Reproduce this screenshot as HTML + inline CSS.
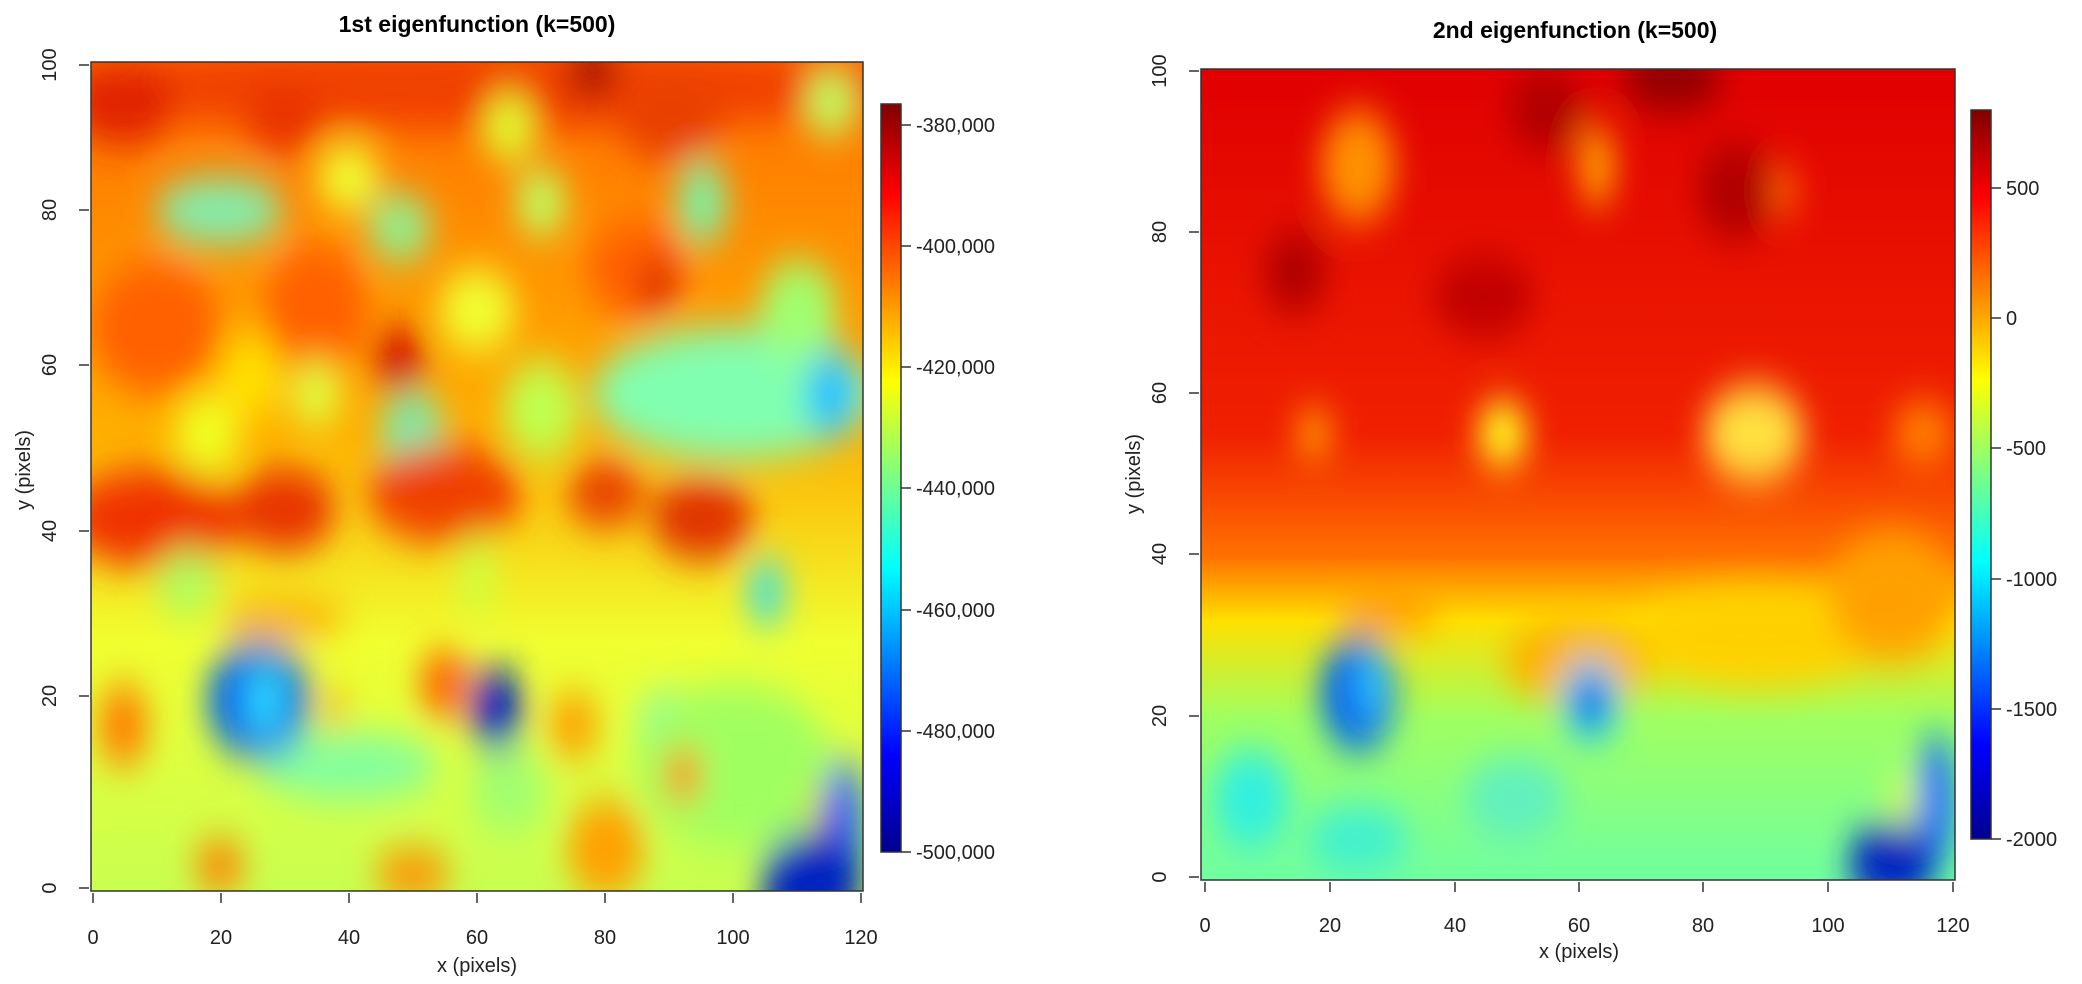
<!DOCTYPE html>
<html><head><meta charset="utf-8"><style>
html,body{margin:0;padding:0;background:#fff;}
body{width:2082px;height:984px;position:relative;overflow:hidden;font-family:"Liberation Sans",sans-serif;}
svg{position:absolute;}
</style></head><body>

<svg style="left:91px;top:62px" width="772" height="829" viewBox="0 0 120 100" preserveAspectRatio="none">
<defs>
<linearGradient id="lb" x1="0" y1="0" x2="0" y2="1">
<stop offset="0" stop-color="#ff7000"/><stop offset="0.45" stop-color="#ffb000"/><stop offset="0.7" stop-color="#f0ff30"/><stop offset="1" stop-color="#c8ff50"/>
</linearGradient>
<filter id="f1" x="-20%" y="-20%" width="140%" height="140%"><feGaussianBlur stdDeviation="2.4"/></filter>
</defs>
<rect width="120" height="100" fill="url(#lb)"/>
<g filter="url(#f1)" transform="translate(0,100) scale(1,-1)">
<ellipse cx="60" cy="97" rx="70" ry="5" fill="#f04000"/>
<ellipse cx="78" cy="99" rx="4" ry="3" fill="#a00000"/>
<ellipse cx="5" cy="95" rx="8" ry="5" fill="#e02000"/>
<ellipse cx="30" cy="93" rx="6" ry="4" fill="#e83000"/>
<ellipse cx="90" cy="93" rx="8" ry="5" fill="#e84000"/>
<ellipse cx="60" cy="70" rx="6" ry="5" fill="#f0ff30"/>
<ellipse cx="25" cy="62" rx="5" ry="5" fill="#ffe000"/>
<ellipse cx="70" cy="58" rx="6" ry="6" fill="#c0ff50"/>
<ellipse cx="40" cy="86" rx="5" ry="4" fill="#f0ff30"/>
<ellipse cx="20" cy="82" rx="10" ry="4" fill="#80f0b0"/>
<ellipse cx="48" cy="80" rx="5" ry="4" fill="#90f090"/>
<ellipse cx="95" cy="83" rx="4" ry="5" fill="#80f0a0"/>
<ellipse cx="70" cy="83" rx="4" ry="4" fill="#c0ff60"/>
<ellipse cx="115" cy="95" rx="4" ry="4" fill="#c0ff60"/>
<ellipse cx="65" cy="92" rx="4" ry="4" fill="#e0ff30"/>
<ellipse cx="10" cy="68" rx="10" ry="8" fill="#ff6000"/>
<ellipse cx="35" cy="70" rx="8" ry="8" fill="#ff6000"/>
<ellipse cx="48" cy="64" rx="4" ry="4" fill="#d01000"/>
<ellipse cx="85" cy="75" rx="8" ry="6" fill="#ff6000"/>
<ellipse cx="88" cy="73" rx="3" ry="3" fill="#d82000"/>
<ellipse cx="100" cy="60" rx="22" ry="8" fill="#80ffb0"/>
<ellipse cx="115" cy="60" rx="4" ry="5" fill="#20c0ff"/>
<ellipse cx="110" cy="70" rx="6" ry="6" fill="#a0ff70"/>
<ellipse cx="50" cy="55" rx="5" ry="5" fill="#70f0b0"/>
<ellipse cx="18" cy="55" rx="5" ry="5" fill="#f0ff20"/>
<ellipse cx="35" cy="60" rx="4" ry="4" fill="#e0ff40"/>
<ellipse cx="10" cy="45" rx="14" ry="6" fill="#f03000"/>
<ellipse cx="30" cy="46" rx="8" ry="5" fill="#e83000"/>
<ellipse cx="55" cy="48" rx="12" ry="6" fill="#f04000"/>
<ellipse cx="95" cy="45" rx="8" ry="5" fill="#e03000"/>
<ellipse cx="80" cy="48" rx="6" ry="4" fill="#e84000"/>
<ellipse cx="15" cy="37" rx="5" ry="4" fill="#b0ff60"/>
<ellipse cx="105" cy="36" rx="3" ry="4" fill="#40e0e0"/>
<ellipse cx="60" cy="38" rx="3" ry="5" fill="#d0ff40"/>
<ellipse cx="30" cy="33" rx="10" ry="2" fill="#ffa000"/>
<ellipse cx="40" cy="15" rx="14" ry="4" fill="#80ffa0"/>
<ellipse cx="65" cy="12" rx="6" ry="5" fill="#a0ff70"/>
<ellipse cx="90" cy="20" rx="5" ry="4" fill="#80ffb0"/>
<ellipse cx="100" cy="15" rx="15" ry="10" fill="#a0ff60"/>
<ellipse cx="5" cy="20" rx="4" ry="5" fill="#ff8000"/>
<ellipse cx="55" cy="25" rx="4" ry="4" fill="#ff6000"/>
<ellipse cx="75" cy="20" rx="4" ry="4" fill="#ffa000"/>
<ellipse cx="38" cy="22" rx="2" ry="2" fill="#ffa000"/>
<ellipse cx="20" cy="3" rx="4" ry="3" fill="#ff8000"/>
<ellipse cx="50" cy="2" rx="6" ry="3" fill="#ff9000"/>
<ellipse cx="80" cy="5" rx="6" ry="6" fill="#ffa000"/>
<ellipse cx="92" cy="14" rx="3" ry="3" fill="#ff8000"/>
<ellipse cx="115" cy="10" rx="3" ry="3" fill="#ff9000"/>
<ellipse cx="26" cy="23" rx="8" ry="7" fill="#0060f0"/>
<ellipse cx="27" cy="23" rx="3" ry="4" fill="#30e0ff"/>
<ellipse cx="63" cy="22" rx="4" ry="5" fill="#0020c0"/>
<ellipse cx="117" cy="8" rx="3" ry="8" fill="#0060ff"/>
<ellipse cx="112" cy="1" rx="8" ry="6" fill="#0020c0"/>
</g>
</svg>

<svg style="left:1201px;top:69px" width="754" height="811" viewBox="0 0 120 100" preserveAspectRatio="none">
<defs>
<linearGradient id="rb" x1="0" y1="0" x2="0" y2="1">
<stop offset="0" stop-color="#e00000"/><stop offset="0.45" stop-color="#f02000"/><stop offset="0.6" stop-color="#ff7000"/><stop offset="0.68" stop-color="#ffe000"/><stop offset="0.8" stop-color="#a0ff60"/><stop offset="1" stop-color="#70ffa0"/>
</linearGradient>
<filter id="f2" x="-20%" y="-20%" width="140%" height="140%"><feGaussianBlur stdDeviation="2.4"/></filter>
</defs>
<rect width="120" height="100" fill="url(#rb)"/>
<g filter="url(#f2)" transform="translate(0,100) scale(1,-1)">
<ellipse cx="75" cy="99" rx="8" ry="4" fill="#900000"/>
<ellipse cx="55" cy="95" rx="6" ry="5" fill="#b00000"/>
<ellipse cx="85" cy="85" rx="6" ry="6" fill="#b00000"/>
<ellipse cx="15" cy="75" rx="5" ry="5" fill="#b00000"/>
<ellipse cx="45" cy="72" rx="8" ry="5" fill="#c00000"/>
<ellipse cx="25" cy="88" rx="6" ry="7" fill="#ff9000"/>
<ellipse cx="63" cy="88" rx="3" ry="5" fill="#ffa000"/>
<ellipse cx="93" cy="85" rx="2" ry="3" fill="#ff7000"/>
<ellipse cx="48" cy="55" rx="4" ry="4" fill="#ffff20"/>
<ellipse cx="18" cy="55" rx="3" ry="3" fill="#ffa000"/>
<ellipse cx="88" cy="55" rx="8" ry="6" fill="#ffe040"/>
<ellipse cx="115" cy="55" rx="5" ry="4" fill="#ff8000"/>
<ellipse cx="30" cy="33" rx="8" ry="2" fill="#ff9000"/>
<ellipse cx="60" cy="27" rx="12" ry="5" fill="#ffb000"/>
<ellipse cx="88" cy="30" rx="20" ry="6" fill="#ffd000"/>
<ellipse cx="110" cy="35" rx="10" ry="8" fill="#ffa000"/>
<ellipse cx="8" cy="10" rx="6" ry="6" fill="#30f0e0"/>
<ellipse cx="25" cy="5" rx="8" ry="4" fill="#40f0d0"/>
<ellipse cx="50" cy="10" rx="8" ry="5" fill="#60f0c0"/>
<ellipse cx="25" cy="23" rx="6" ry="7" fill="#0060f0"/>
<ellipse cx="27" cy="24" rx="2" ry="4" fill="#30d0ff"/>
<ellipse cx="62" cy="22" rx="5" ry="5" fill="#30e0ff"/>
<ellipse cx="62" cy="22" rx="3" ry="3" fill="#0040e0"/>
<ellipse cx="112" cy="10" rx="3" ry="3" fill="#e0ff40"/>
<ellipse cx="117" cy="10" rx="3" ry="8" fill="#1070ff"/>
<ellipse cx="110" cy="2" rx="7" ry="5" fill="#0020c0"/>
</g>
</svg>

<svg style="left:0;top:0" width="2082" height="984" font-family="Liberation Sans, sans-serif" font-size="20" fill="#222">
<defs>
<linearGradient id="jet" x1="0" y1="0" x2="0" y2="1">
<stop offset="0" stop-color="#800000"/><stop offset="0.12" stop-color="#ff0000"/><stop offset="0.37" stop-color="#ffff00"/><stop offset="0.62" stop-color="#00ffff"/><stop offset="0.87" stop-color="#0000ff"/><stop offset="1" stop-color="#00008f"/>
</linearGradient>
</defs>
<text x="477" y="32" font-size="23" font-weight="bold" text-anchor="middle" fill="#000">1st eigenfunction (k=500)</text>
<text x="1575" y="38" font-size="23" font-weight="bold" text-anchor="middle" fill="#000">2nd eigenfunction (k=500)</text>
<g stroke="#333" stroke-width="1.5" fill="none">
<rect x="91" y="62" width="772" height="829"/>
<path d="M93 893V903M221 893V903M349 893V903M477 893V903M605 893V903M733 893V903M861 893V903"/>
<path d="M89 65H79M89 210H79M89 365H79M89 531H79M89 696H79M89 888H79"/>
<rect x="881" y="104" width="20" height="748" fill="url(#jet)"/>
<path d="M901 125h10M901 246h10M901 367h10M901 488h10M901 610h10M901 731h10M901 852h10"/>
<rect x="1201" y="69" width="754" height="811"/>
<path d="M1205 882V892M1330 882V892M1455 882V892M1579 882V892M1703 882V892M1828 882V892M1953 882V892"/>
<path d="M1199 71H1189M1199 232H1189M1199 393H1189M1199 554H1189M1199 716H1189M1199 877H1189"/>
<rect x="1971" y="110" width="20" height="729" fill="url(#jet)"/>
<path d="M1991 188h10M1991 318h10M1991 448h10M1991 579h10M1991 709h10M1991 839h10"/>
</g>
<g text-anchor="middle">
<text x="93" y="944">0</text><text x="221" y="944">20</text><text x="349" y="944">40</text><text x="477" y="944">60</text><text x="605" y="944">80</text><text x="733" y="944">100</text><text x="861" y="944">120</text>
<text x="477" y="972">x (pixels)</text>
<text x="1205" y="932">0</text><text x="1330" y="932">20</text><text x="1455" y="932">40</text><text x="1579" y="932">60</text><text x="1703" y="932">80</text><text x="1828" y="932">100</text><text x="1953" y="932">120</text>
<text x="1579" y="958">x (pixels)</text>
</g>
<g text-anchor="middle">
<text transform="translate(56,65) rotate(-90)">100</text>
<text transform="translate(56,210) rotate(-90)">80</text>
<text transform="translate(56,365) rotate(-90)">60</text>
<text transform="translate(56,531) rotate(-90)">40</text>
<text transform="translate(56,696) rotate(-90)">20</text>
<text transform="translate(56,888) rotate(-90)">0</text>
<text transform="translate(30,470) rotate(-90)">y (pixels)</text>
<text transform="translate(1166,71) rotate(-90)">100</text>
<text transform="translate(1166,232) rotate(-90)">80</text>
<text transform="translate(1166,393) rotate(-90)">60</text>
<text transform="translate(1166,554) rotate(-90)">40</text>
<text transform="translate(1166,716) rotate(-90)">20</text>
<text transform="translate(1166,877) rotate(-90)">0</text>
<text transform="translate(1140,474) rotate(-90)">y (pixels)</text>
</g>
<g>
<text x="916" y="132">-380,000</text><text x="916" y="253">-400,000</text><text x="916" y="374">-420,000</text><text x="916" y="495">-440,000</text><text x="916" y="617">-460,000</text><text x="916" y="738">-480,000</text><text x="916" y="859">-500,000</text>
<text x="2006" y="195">500</text><text x="2006" y="325">0</text><text x="2006" y="455">-500</text><text x="2006" y="586">-1000</text><text x="2006" y="716">-1500</text><text x="2006" y="846">-2000</text>
</g>
</svg>
</body></html>
